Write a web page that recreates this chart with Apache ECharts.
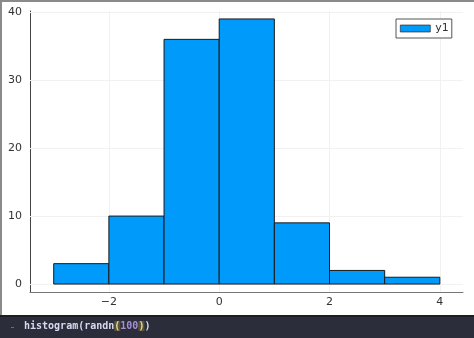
<!DOCTYPE html>
<html>
<head>
<meta charset="utf-8">
<style>html,body{margin:0;padding:0;background:#fff;}#c{width:474px;height:338px;}</style>
<script src="https://cdn.jsdelivr.net/npm/echarts@6/dist/echarts.min.js"></script>
</head>
<body>
<div id="c"></div>
<script>
// Histogram bins (left edge, right edge) and counts
const binStarts = [-3, -2, -1, 0, 1, 2, 3];
const binEnds   = [-2, -1, 0, 1, 2, 3, 4];
const counts    = [3, 10, 36, 39, 9, 2, 1];
const xTicks = [-2, 0, 2, 4];
const yTicks = [0, 10, 20, 30, 40];
const seriesName = 'y1';

const chart = echarts.init(document.getElementById('c'), null, {renderer: 'canvas'});
const data = binStarts.map((s, i) => [s, binEnds[i], counts[i]]);
const fmt = v => (v < 0 ? '\u2212' + Math.abs(v) : String(v));
const gridColor = '#f1f1f1';

chart.setOption({
  animation: false,
  backgroundColor: '#fff',
  grid: {left: 30, right: 11, top: 11, bottom: 46, containLabel: false},
  legend: {
    data: [{name: seriesName, icon: 'rect'}],
    left: 396, top: 19,
    orient: 'vertical',
    itemWidth: 30, itemHeight: 7, itemGap: 4,
    padding: [4, 3, 4, 4],
    borderColor: '#555', borderWidth: 1, borderRadius: 0,
    backgroundColor: '#fff',
    itemStyle: {color: '#009AFA', borderColor: '#1a1a1a', borderWidth: 0.6},
    textStyle: {fontFamily: 'DejaVu Sans', fontSize: 11, color: '#333'}
  },
  xAxis: {
    type: 'value', min: -3.43, max: 4.42,
    axisLine: {show: true, onZero: false, lineStyle: {color: '#777', width: 1}},
    axisTick: {show: true, inside: true, length: 4, customValues: xTicks, lineStyle: {color: '#555'}},
    axisLabel: {customValues: xTicks, formatter: fmt, fontFamily: 'DejaVu Sans', fontSize: 11, color: '#333', margin: 5},
    splitLine: {show: false}
  },
  yAxis: {
    type: 'value', min: -1.17, max: 40.17,
    axisLine: {show: true, onZero: false, lineStyle: {color: '#444', width: 1}},
    axisTick: {show: true, inside: true, length: 4, customValues: yTicks, lineStyle: {color: '#555'}},
    axisLabel: {customValues: yTicks, formatter: fmt, fontFamily: 'DejaVu Sans', fontSize: 11, color: '#333', margin: 8},
    splitLine: {show: false}
  },
  series: [{
    name: 'grid',
    type: 'custom',
    data: [],
    renderItem: function () { return null; },
    z: 1,
    markLine: {
      silent: true, symbol: 'none', label: {show: false}, z: 1,
      lineStyle: {color: gridColor, type: 'solid', width: 1},
      data: xTicks.map(v => ({xAxis: v})).concat(yTicks.map(v => ({yAxis: v})))
    }
  }, {
    name: seriesName,
    type: 'custom',
    itemStyle: {color: '#009AFA', borderColor: '#1a1a1a', borderWidth: 1},
    renderItem: function (params, api) {
      const p0 = api.coord([api.value(0), 0]);
      const p1 = api.coord([api.value(1), api.value(2)]);
      return {
        type: 'rect',
        shape: {x: p0[0], y: p1[1], width: p1[0] - p0[0], height: p0[1] - p1[1]},
        style: {fill: '#009AFA', stroke: '#1a1a1a', lineWidth: 1}
      };
    },
    encode: {x: [0, 1], y: 2},
    data: data,
    z: 5
  }],
  graphic: [
    {type: 'rect', left: 0, top: 0, shape: {width: 474, height: 2}, style: {fill: '#8a8a8a'}, z: 100},
    {type: 'rect', left: 0, top: 0, shape: {width: 2, height: 316}, style: {fill: '#8a8a8a'}, z: 100},
    {type: 'rect', left: 0, top: 315, shape: {width: 474, height: 23}, style: {fill: '#2b2d3a'}, z: 100},
    {type: 'rect', left: 0, top: 315, shape: {width: 474, height: 2}, style: {fill: '#1c1d24'}, z: 101},
    {type: 'rect', left: 11, top: 327, shape: {width: 3, height: 1}, style: {fill: '#6a6d80'}, z: 101},
    {
      type: 'text', left: 24, top: 321, z: 102,
      style: {
        text: '{a|histogram(randn}{p|(}{n|100}{p|)}{a|)}',
        rich: {
          a: {fontFamily: 'DejaVu Sans Mono', fontWeight: 'bold', fontSize: 10, fill: '#d6d9f0'},
          p: {fontFamily: 'DejaVu Sans Mono', fontWeight: 'bold', fontSize: 10, fill: '#e8d890', backgroundColor: '#5a5436'},
          n: {fontFamily: 'DejaVu Sans Mono', fontWeight: 'bold', fontSize: 10, fill: '#a98fd6'}
        }
      }
    }
  ]
});
</script>
</body>
</html>
